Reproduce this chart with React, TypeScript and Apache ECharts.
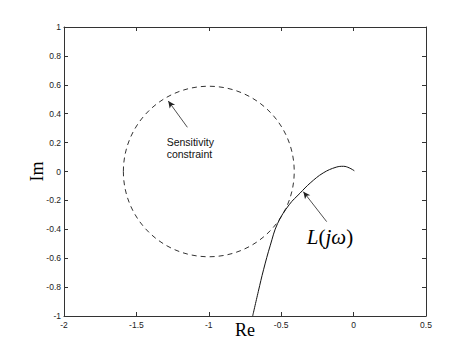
import React, { useEffect, useRef } from "react";
import * as echarts from "echarts";

// Axis ranges
const xRange = [-2, 0.5];
const yRange = [-1, 1];
const xStep = 0.5;
const yStep = 0.2;

const lRe = [-0.697, -0.658, -0.622, -0.575, -0.525, -0.445, -0.37, -0.3, -0.21, -0.12, -0.07, -0.03, 0.005];
const lIm = [-1.0, -0.83, -0.68, -0.51, -0.36, -0.23, -0.15, -0.08, -0.01, 0.03, 0.036, 0.025, 0.005];

// Sensitivity constraint circle: center (re, im), radius
const circleCenter = [-1, 0];
const circleRadius = 0.59;

// Annotations: arrows [from, to] in data coords, and labels
const sensArrow = [[-1.148, 0.306], [-1.28, 0.488]];
const lArrow = [[-0.186, -0.347], [-0.347, -0.14]];
const sensLabelPos = [-1.291, 0.164];
const lLabelPos = [-0.163, -0.45];

export default function App() {
  const ref = useRef<HTMLDivElement>(null);
  useEffect(() => {
    if (!ref.current) return;
    const chart = echarts.init(ref.current, null, { renderer: "svg" });
    const axisColor = "#333";
    const labelStyle = { fontFamily: "Liberation Sans", fontSize: 8.5, color: "#222" };
    const baseX = {
      type: "value" as const,
      min: xRange[0],
      max: xRange[1],
      interval: xStep,
      splitLine: { show: false },
      axisLine: { show: true, onZero: false, lineStyle: { color: axisColor, width: 1 } },
      axisTick: { show: true, inside: true, length: 4, lineStyle: { color: axisColor } },
    };
    const baseY = {
      type: "value" as const,
      min: yRange[0],
      max: yRange[1],
      interval: yStep,
      splitLine: { show: false },
      axisLine: { show: true, onZero: false, lineStyle: { color: axisColor, width: 1 } },
      axisTick: { show: true, inside: true, length: 4, lineStyle: { color: axisColor } },
    };
    const curve = lRe.map((x, i) => [x, lIm[i]]);
    chart.setOption({
      animation: false,
      grid: { left: 64, right: 48, top: 27, bottom: 39, containLabel: false },
      xAxis: [
        {
          ...baseX,
          position: "bottom",
          axisLabel: { ...labelStyle, margin: 4 },
          name: "Re",
          nameLocation: "middle",
          nameGap: 5,
          nameMoveOverlap: false,
          nameTextStyle: { fontFamily: "Liberation Serif", fontSize: 18, color: "#000", verticalAlign: "top" },
        },
        { ...baseX, position: "top", axisLabel: { show: false } },
      ],
      yAxis: [
        {
          ...baseY,
          position: "left",
          axisLabel: { ...labelStyle, margin: 3 },
          name: "Im",
          nameLocation: "middle",
          nameGap: 18,
          nameRotate: 90,
          nameMoveOverlap: false,
          nameTextStyle: { fontFamily: "Liberation Serif", fontSize: 18, color: "#000" },
        },
        { ...baseY, position: "right", axisLabel: { show: false } },
      ],
      series: [
        {
          type: "custom",
          name: "Sensitivity constraint",
          xAxisIndex: 0,
          yAxisIndex: 0,
          data: [[circleCenter[0], circleCenter[1], circleRadius]],
          encode: { x: 0, y: 1 },
          silent: true,
          renderItem: (params: any, api: any) => {
            const c = api.coord([api.value(0), api.value(1)]);
            const s = api.size([api.value(2), api.value(2)]);
            return {
              type: "ellipse",
              shape: { cx: c[0], cy: c[1], rx: s[0], ry: s[1] },
              style: { fill: "none", stroke: "#333", lineWidth: 1, lineDash: [5, 4] },
            };
          },
        },
        {
          type: "line",
          name: "L(jω)",
          xAxisIndex: 0,
          yAxisIndex: 0,
          data: curve,
          smooth: 0.4,
          showSymbol: false,
          symbol: "none",
          lineStyle: { color: "#111", width: 1 },
          markLine: {
            silent: true,
            symbol: ["none", "arrow"],
            symbolSize: [5, 7],
            label: { show: false },
            lineStyle: { color: "#222", width: 0.8, type: "solid" },
            data: [
              [{ coord: sensArrow[0] }, { coord: sensArrow[1] }],
              [{ coord: lArrow[0] }, { coord: lArrow[1] }],
            ],
          },
          markPoint: {
            silent: true,
            symbol: "circle",
            symbolSize: 0,
            data: [
              {
                coord: sensLabelPos,
                label: {
                  show: true,
                  position: "inside",
                  align: "left",
                  verticalAlign: "middle",
                  formatter: "Sensitivity\nconstraint",
                  fontFamily: "Liberation Sans",
                  fontSize: 10.5,
                  lineHeight: 11.5,
                  color: "#111",
                },
              },
              {
                coord: lLabelPos,
                label: {
                  show: true,
                  position: "inside",
                  align: "center",
                  verticalAlign: "middle",
                  formatter: "{i|L}{r|(}{i|jω}{r|)}",
                  rich: {
                    i: { fontFamily: "Liberation Serif", fontStyle: "italic", fontSize: 21, color: "#000" },
                    r: { fontFamily: "Liberation Serif", fontSize: 21, color: "#000" },
                  },
                },
              },
            ],
          },
        },
      ],
    });
    return () => chart.dispose();
  }, []);
  return <div ref={ref} style={{ position: "absolute", left: 0, top: 0, width: 474, height: 355 }} />;
}
